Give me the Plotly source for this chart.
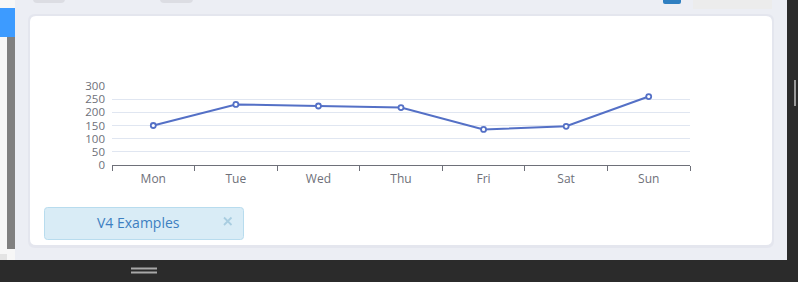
import plotly.graph_objects as go

# ---- data ----
days = ["Mon", "Tue", "Wed", "Thu", "Fri", "Sat", "Sun"]
values = [150, 230, 224, 218, 135, 147, 260]
y_ticks = [0, 50, 100, 150, 200, 250, 300]

W, H = 798, 282

def px(x):
    return x / W

def py(y):
    return 1 - y / H

def rrect(x0, y0, x1, y1, r):
    # rounded rectangle path in paper coords from pixel coords
    return (f"M {px(x0 + r)},{py(y0)} L {px(x1 - r)},{py(y0)} "
            f"Q {px(x1)},{py(y0)} {px(x1)},{py(y0 + r)} "
            f"L {px(x1)},{py(y1 - r)} Q {px(x1)},{py(y1)} {px(x1 - r)},{py(y1)} "
            f"L {px(x0 + r)},{py(y1)} Q {px(x0)},{py(y1)} {px(x0)},{py(y1 - r)} "
            f"L {px(x0)},{py(y0 + r)} Q {px(x0)},{py(y0)} {px(x0 + r)},{py(y0)} Z")

def rect(x0, y0, x1, y1, color, layer="below"):
    return dict(type="rect", xref="paper", yref="paper",
                x0=px(x0), x1=px(x1), y0=py(y1), y1=py(y0),
                fillcolor=color, line=dict(width=0), layer=layer)

def rpath(x0, y0, x1, y1, r, color, line=None, layer="below"):
    return dict(type="path", xref="paper", yref="paper", path=rrect(x0, y0, x1, y1, r),
                fillcolor=color, line=line or dict(width=0), layer=layer)

shapes = []
# left strip area
shapes.append(rect(0, 0, 15, 260, "#f7f7f7"))
shapes.append(rect(0, 8, 15, 37, "#3d9bff"))
shapes.append(rect(7, 37, 15, 249, "#808080"))
shapes.append(rect(0, 254, 7, 260, "#e4e4e4"))
# top decorations
shapes.append(rpath(33, -10, 65, 3, 4, "#dcdde3"))
shapes.append(rpath(160, -10, 193, 3, 4, "#dcdde3"))
shapes.append(rect(693, 0, 772, 9, "#ececec"))
shapes.append(rpath(663, -4, 681, 4, 2, "#2f7fc1"))
# card shadow + card
shapes.append(rpath(28, 14, 774, 248, 7, "#e4e6ee"))
shapes.append(rpath(30, 16, 772, 245, 6, "#ffffff"))
# tag
shapes.append(rpath(44.5, 207.5, 243.5, 239.5, 3, "#d9ecf6", line=dict(width=1, color="#b8dcee")))
shapes.append(dict(type="line", xref="paper", yref="paper", x0=px(224), y0=py(217.5), x1=px(231.5), y1=py(225),
                   line=dict(width=1.8, color="#a9cde0"), layer="below"))
shapes.append(dict(type="line", xref="paper", yref="paper", x0=px(224), y0=py(225), x1=px(231.5), y1=py(217.5),
                   line=dict(width=1.8, color="#a9cde0"), layer="below"))
# dark bars
shapes.append(rect(0, 260, 798, 283, "#2b2b2b", layer="above"))
shapes.append(rect(787, -1, 799, 283, "#2b2b2b", layer="above"))
shapes.append(rect(794, 80, 796, 106, "#9a9a9a", layer="above"))
shapes.append(rect(131, 267.5, 157, 269.5, "#a8a8a8", layer="above"))
shapes.append(rect(131, 271.5, 157, 273.5, "#a8a8a8", layer="above"))

fig = go.Figure()
fig.add_trace(go.Scatter(
    x=days, y=values, mode="lines+markers",
    line=dict(color="#5470c6", width=2),
    marker=dict(symbol="circle", size=5, color="#ffffff",
                line=dict(color="#5470c6", width=1.8)),
    hoverinfo="skip", showlegend=False,
))

axis_font = dict(family="Microsoft YaHei, Open Sans, sans-serif", size=12, color="#6e7079")
yaxis_font = dict(family="Microsoft YaHei, Open Sans, sans-serif", size=11.5, color="#6e7079")

fig.update_layout(
    width=W, height=H,
    margin=dict(l=0, r=0, t=0, b=0, pad=0, autoexpand=False),
    paper_bgcolor="#eceef4",
    plot_bgcolor="rgba(0,0,0,0)",
    shapes=shapes,
    xaxis=dict(
        domain=[px(112), px(690)], automargin=False,
        type="category", range=[-0.5, 6.5],
        showline=True, linecolor="#6e7079", linewidth=1,
        ticks="outside", ticklen=5, tickcolor="#6e7079", tickson="boundaries",
        showgrid=False, zeroline=False, tickfont=axis_font,
        ticklabelstandoff=3,
    ),
    yaxis=dict(
        domain=[py(165), py(86)], automargin=False,
        range=[0, 300], tickvals=y_ticks, ticktext=[str(v) for v in y_ticks],
        showline=False, showgrid=True, gridcolor="#e0e6f1", gridwidth=1,
        zeroline=False, ticks="", tickfont=yaxis_font, ticklabelstandoff=6,
    ),
    annotations=[
        dict(text="V4 Examples", xref="paper", yref="paper", x=px(138), y=py(222.5),
             xanchor="center", yanchor="middle", showarrow=False,
             font=dict(family="Open Sans, sans-serif", size=14, color="#3d7fc1")),
    ],
)

fig.write_html("out.html")
